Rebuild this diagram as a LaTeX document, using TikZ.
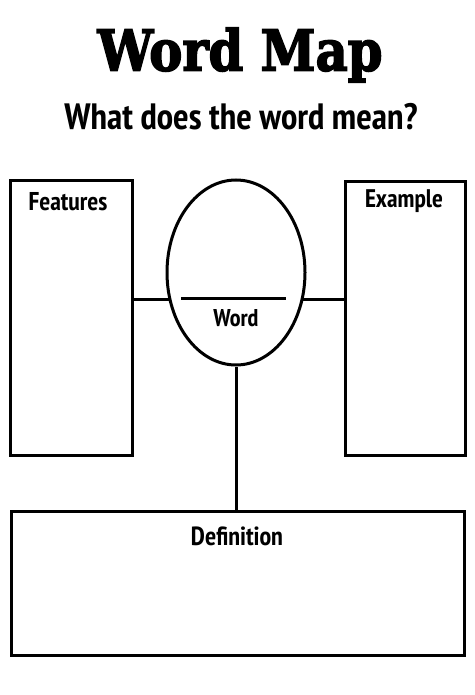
\documentclass[tikz,border=0pt]{standalone}
\usepackage{fontspec}
\setmainfont{DejaVu Serif}
\newfontfamily\labelfont{PT Sans Narrow}
\newfontfamily\heavyfont{DejaVu Serif}[BoldFeatures={FakeBold=3}]
\usetikzlibrary{shapes.geometric,calc}
\begin{document}
\begin{tikzpicture}[x=1pt,y=-1pt,
  frame/.style={draw=black,line width=3pt},
  lbl/.style={font=\labelfont\bfseries,inner sep=0pt,anchor=center},
  link/.style={draw=black,line width=3pt}]
\useasboundingbox (0,0) rectangle (474,695);
% title
\node[inner sep=0pt] (title) at (240,55) {\resizebox{285pt}{43pt}{\heavyfont\bfseries Word Map}};
\node[inner sep=0pt] (sub) at (241,117) {\resizebox{353pt}{!}{\labelfont\bfseries What does the word mean?}};
% boxes
\node[frame,minimum width=122pt,minimum height=275pt,inner sep=0pt] (feat) at (71,317.5) {};
\node[frame,minimum width=120pt,minimum height=274pt,inner sep=0pt] (exam) at (405,318) {};
\node[frame,minimum width=453pt,minimum height=144pt,inner sep=0pt] (defn) at (237.5,583) {};
\node[frame,ellipse,minimum width=138pt,minimum height=185pt,inner sep=0pt] (word) at (236,272.5) {};
% labels
\node[lbl] (featl) at (68,202) {\resizebox{79pt}{!}{Features}};
\node[lbl] (examl) at (404,201) {\resizebox{78pt}{!}{Example}};
\node[lbl] (wordl) at (236,318) {\resizebox{45pt}{!}{Word}};
\node[lbl] (defnl) at (237,536) {\resizebox{92pt}{!}{Definition}};
% inner line
\coordinate (wl) at (181,298);
\coordinate (wr) at (286,298);
\draw[link] (wl) -- (wr);
% connectors
\coordinate (el) at ($(word.center)+(-65,26.5)$);
\coordinate (er) at ($(word.center)+(65,26.5)$);
\draw[link] (feat.east |- el) -- (el);
\draw[link] (er) -- (exam.west |- er);
\draw[link] (word.south) -- (defn.north -| word.south);
\end{tikzpicture}
\end{document}
